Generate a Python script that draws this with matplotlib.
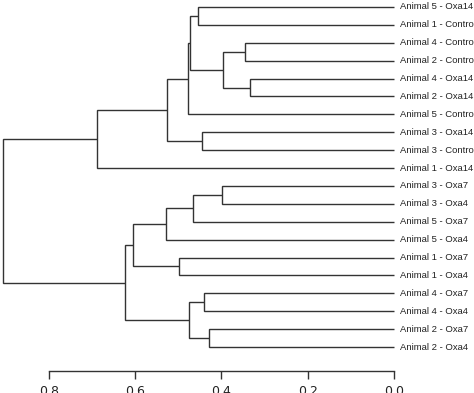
import matplotlib
matplotlib.use('Agg')
import matplotlib.pyplot as plt

# leaves, top to bottom
labels = ['Animal 5 - Oxa14', 'Animal 1 - Controle', 'Animal 4 - Controle',
          'Animal 2 - Controle', 'Animal 4 - Oxa14', 'Animal 2 - Oxa14',
          'Animal 5 - Controle', 'Animal 3 - Oxa14', 'Animal 3 - Controle',
          'Animal 1 - Oxa14', 'Animal 3 - Oxa7', 'Animal 3 - Oxa4',
          'Animal 5 - Oxa7', 'Animal 5 - Oxa4', 'Animal 1 - Oxa7',
          'Animal 1 - Oxa4', 'Animal 4 - Oxa7', 'Animal 4 - Oxa4',
          'Animal 2 - Oxa7', 'Animal 2 - Oxa4']

# merges: (left node, right node, height); leaves are 0..19,
# merge k creates node 20+k
merge_left = [0, 2, 4, 21, 20, 24, 7, 25, 27, 10, 29, 30, 14, 31, 16, 18, 34, 33, 28]
merge_right = [1, 3, 5, 22, 23, 6, 8, 26, 9, 11, 12, 13, 15, 32, 17, 19, 35, 36, 37]
merge_height = [0.455, 0.345, 0.333, 0.397, 0.473, 0.478, 0.445, 0.527, 0.689,
                0.398, 0.467, 0.528, 0.498, 0.606, 0.440, 0.430, 0.475, 0.623, 0.905]

n = len(labels)

fig = plt.figure(figsize=(4.74, 3.93), dpi=100)
ax = fig.add_axes([0, 0, 1, 1])

pos = {i: (0.0, float(i)) for i in range(n)}
col = '#333333'
for k in range(len(merge_height)):
    a, b, h = merge_left[k], merge_right[k], merge_height[k]
    xa, ya = pos[a]
    xb, yb = pos[b]
    ax.plot([xa, h, h, xb], [ya, ya, yb, yb], color=col, lw=1.0,
            solid_capstyle='butt', solid_joinstyle='miter')
    pos[n + k] = (h, (ya + yb) / 2)

for i, lab in enumerate(labels):
    ax.text(-0.0145, i, lab, ha='left', va='center', fontsize=6.8,
            color='#222222', family='Liberation Sans', clip_on=True)

ax.set_xlim(0.913, -0.185)
ax.set_ylim(21.57, -0.391)

for s in ['top', 'right', 'left']:
    ax.spines[s].set_visible(False)
ax.spines['bottom'].set_position(('data', (371 - 7) / 17.89))
ax.spines['bottom'].set_bounds(0.8, 0.0)
ax.spines['bottom'].set_color(col)
ax.spines['bottom'].set_linewidth(1.0)
ax.set_xticks([0.8, 0.6, 0.4, 0.2, 0.0])
ax.set_xticklabels(['0.8', '0.6', '0.4', '0.2', '0.0'])
ax.tick_params(axis='x', direction='out', length=5.5, width=1.0, color=col,
               labelsize=9, labelcolor='#222222', pad=4.5)
ax.set_yticks([])
ax.patch.set_visible(False)

fig.savefig('out.png', dpi=100)
